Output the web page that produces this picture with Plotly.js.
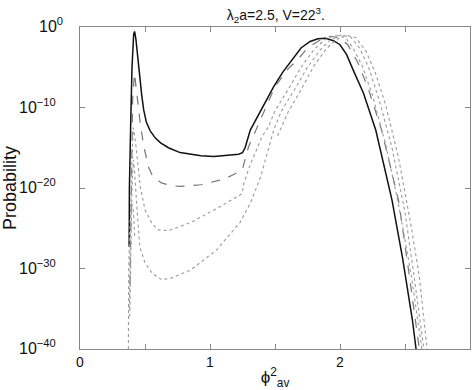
<!DOCTYPE html>
<html>
<head>
<meta charset="utf-8">
<script src="https://cdn.plot.ly/plotly-3.0.1.min.js"></script>
<style>html,body{margin:0;padding:0;background:#fff}#chart{width:474px;height:390px}</style>
</head>
<body>
<div id="chart"></div>
<script>
// x positions (phi^2_av) and log10(probability)
const solidX = [0.378,0.38,0.39,0.40,0.413,0.42,0.43,0.445,0.46,0.475,0.49,0.51,0.54,0.58,0.62,0.68,0.77,0.85,0.93,1.03,1.10,1.16,1.22,1.25,1.27,1.31,1.41,1.49,1.56,1.63,1.70,1.77,1.83,1.89,1.95,2.00,2.05,2.10,2.18,2.275,2.336,2.40,2.48,2.557,2.585];
const solidLog = [-27.3,-20,-12,-5,-0.9,-0.55,-1.5,-4,-6.2,-8.5,-10.3,-11.8,-12.9,-13.8,-14.4,-15.0,-15.6,-15.8,-16.0,-16.1,-16.0,-15.9,-15.8,-15.6,-15.0,-12.8,-9.9,-7.4,-5.6,-4.1,-2.6,-1.8,-1.45,-1.4,-1.7,-2.2,-3.4,-5.3,-8.2,-12.8,-16.9,-21.5,-28.6,-36.4,-40];

const dashX = [0.385,0.395,0.405,0.419,0.43,0.445,0.463,0.49,0.527,0.56,0.63,0.70,0.77,0.85,0.93,1.08,1.16,1.23,1.247,1.296,1.388,1.50,1.60,1.673,1.75,1.85,1.93,2.00,2.06,2.14,2.22,2.32,2.39,2.45,2.53,2.61];
const dashLog = [-32,-20,-9,-5.75,-7.5,-9.8,-11.9,-14.8,-17.4,-18.6,-19.4,-19.7,-19.8,-19.7,-19.6,-19.0,-18.5,-17.9,-17.8,-14.9,-11.6,-7.4,-5.2,-4.1,-2.6,-1.6,-1.15,-1.4,-2.2,-4.5,-7.8,-12.8,-17.5,-21.5,-30.5,-40];

const dot1X = [0.38,0.395,0.41,0.425,0.445,0.463,0.50,0.553,0.60,0.68,0.85,1.08,1.247,1.26,1.30,1.40,1.45,1.50,1.60,1.70,1.80,1.88,1.96,2.04,2.10,2.17,2.25,2.35,2.45,2.55,2.63];
const dot1Log = [-35,-18,-12.5,-14,-17,-19.8,-22.7,-24.4,-25.2,-25.3,-24.3,-22.3,-20.7,-19.5,-17.5,-13.6,-12.4,-10.4,-7.8,-5.0,-2.8,-1.6,-1.05,-1.3,-2.6,-4.8,-8.5,-14.5,-22,-31,-40];

const dot2X = [0.383,0.40,0.41,0.42,0.44,0.46,0.50,0.555,0.63,0.70,0.85,1.05,1.23,1.285,1.31,1.39,1.49,1.55,1.65,1.75,1.85,1.92,2.00,2.08,2.15,2.22,2.30,2.40,2.50,2.57,2.645];
const dot2Log = [-36,-20,-16.5,-18,-23,-27.3,-29.3,-30.6,-31.4,-31.2,-30.2,-27.7,-24.3,-22.7,-21.9,-18.6,-12.8,-10.4,-7.8,-5.0,-2.8,-1.7,-1.0,-1.2,-2.6,-5.0,-9.0,-15.0,-23.0,-31,-40];

const dot3X = [0.372,0.375,0.385,0.40,0.412,0.42,null,1.52,1.60,1.70,1.80,1.90,1.97,2.04,2.12,2.20,2.27,2.35,2.45,2.55,2.61,2.67];
const dot3Log = [-40,-30,-24,-22,-23,-26,null,-13.5,-10.6,-7.8,-4.8,-2.6,-1.6,-1.0,-1.3,-3.0,-5.6,-9.6,-16.2,-25,-31,-40];

const xTickVals = [0,0.5,1,1.5,2,2.5,3];
const xTickText = ["0","","1","","2","","3"];
const yTickExp = [0,-10,-20,-30,-40];
const yTickText = ["10<sup>0</sup>","10<sup>−10</sup>","10<sup>−20</sup>","10<sup>−30</sup>","10<sup>−40</sup>"];

const toP = a => a.map(v => v === null ? null : Math.pow(10, v));

const traces = [
  {x: solidX, y: toP(solidLog), mode:'lines', line:{color:'#111', width:1.5, dash:'solid'}},
  {x: dashX, y: toP(dashLog), mode:'lines', line:{color:'#777', width:1.2, dash:'dash'}},
  {x: dot1X, y: toP(dot1Log), mode:'lines', line:{color:'#999', width:1.1, dash:'dot'}},
  {x: dot2X, y: toP(dot2Log), mode:'lines', line:{color:'#999', width:1.1, dash:'dot'}},
  {x: dot3X, y: toP(dot3Log), mode:'lines', line:{color:'#999', width:1.1, dash:'dot'}, connectgaps:false}
];

// y tick labels as annotations placed on the y axis scale (log axis: y given as exponent)
const yLabelAnn = yTickExp.map((e, i) => ({
  xref:'paper', yref:'y', x:0, y:e, text:yTickText[i],
  xanchor:'right', yanchor:'middle', xshift: e === 0 ? -15 : -22, yshift: 2,
  showarrow:false, font:{size:16, color:'#111'}
}));

const layout = {
  width:474, height:390,
  margin:{l:80, r:4, t:27, b:41},
  paper_bgcolor:'#fff', plot_bgcolor:'#fff',
  showlegend:false,
  font:{family:'Liberation Sans, Arial, sans-serif', color:'#111'},
  title:{text:'λ<sub>2</sub>a=2.5, V=22<sup>3</sup>.', x:0.582, xanchor:'center', y:0.962, yanchor:'middle', yref:'container', font:{size:14, color:'#111'}},
  xaxis:{
    range:[0,3], tickvals:xTickVals, ticktext:xTickText, ticks:'inside', ticklen:5, tickcolor:'#888',
    showline:true, linecolor:'#888', linewidth:1.3, mirror:'ticks', showgrid:false, zeroline:false,
    tickfont:{size:14, color:'#111'},
    title:{text:'ϕ<sup>2</sup><sub>av</sub>', font:{size:17, color:'#111'}, standoff:4}
  },
  yaxis:{
    type:'log', range:[-40,0], tickvals:toP(yTickExp), ticks:'inside', ticklen:5, tickcolor:'#888',
    showline:true, linecolor:'#888', linewidth:1.3, mirror:'ticks', showgrid:false, zeroline:false,
    showticklabels:false,
    title:{text:'Probability', font:{size:18, color:'#111'}, standoff:60}
  },
  annotations: yLabelAnn
};

Plotly.newPlot('chart', traces, layout, {displayModeBar:false, staticPlot:true});
</script>
</body>
</html>
